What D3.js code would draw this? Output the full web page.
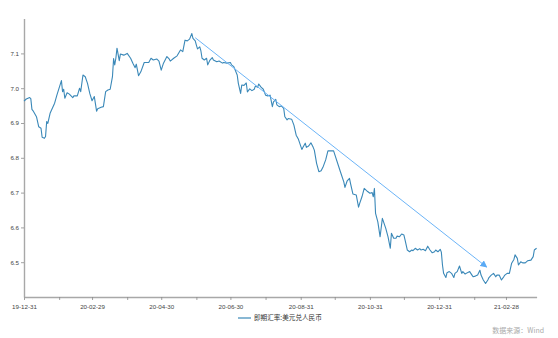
<!DOCTYPE html>
<html>
<head>
<meta charset="utf-8">
<script src="https://cdn.jsdelivr.net/npm/d3@7/dist/d3.min.js"></script>
<style>
  html, body { margin: 0; padding: 0; background: #fff; }
  svg { display: block; }
  .axis text { font-family: "Liberation Sans", Arial, sans-serif; font-size: 6.2px; fill: #444; }
  .axis .domain { stroke: #a8a8a8; stroke-width: 1.4; }
  .axis .tick line { stroke: #8a8a8a; stroke-width: 0.8; }
</style>
</head>
<body>
<svg id="chart" width="558" height="338"></svg>
<script>
// USD/CNY spot rate, daily observations
const dates = [
  "2019-12-31","2020-01-02","2020-01-05","2020-01-06","2020-01-07","2020-01-08","2020-01-11","2020-01-13","2020-01-15","2020-01-16",
  "2020-01-18","2020-01-19","2020-01-20","2020-01-21","2020-01-23","2020-01-27","2020-01-29","2020-02-02","2020-02-03","2020-02-04",
  "2020-02-05","2020-02-07","2020-02-09","2020-02-12","2020-02-13","2020-02-16","2020-02-18","2020-02-19","2020-02-21","2020-02-23",
  "2020-02-25","2020-02-27","2020-02-29","2020-03-02","2020-03-04","2020-03-05","2020-03-08","2020-03-10","2020-03-12","2020-03-14",
  "2020-03-16","2020-03-18","2020-03-19","2020-03-20","2020-03-21","2020-03-22","2020-03-24","2020-03-25","2020-03-28","2020-03-31",
  "2020-04-03","2020-04-05","2020-04-07","2020-04-08","2020-04-10","2020-04-12","2020-04-15","2020-04-19","2020-04-21","2020-04-23",
  "2020-04-26","2020-04-28","2020-04-30","2020-05-02","2020-05-05","2020-05-07","2020-05-08","2020-05-11","2020-05-14","2020-05-17",
  "2020-05-19","2020-05-21","2020-05-23","2020-05-25","2020-05-27","2020-05-28","2020-05-30","2020-05-31","2020-06-01","2020-06-03",
  "2020-06-04","2020-06-05","2020-06-07","2020-06-09","2020-06-10","2020-06-12","2020-06-14","2020-06-15","2020-06-18","2020-06-20",
  "2020-06-23","2020-06-24","2020-06-27","2020-06-30","2020-07-01","2020-07-03","2020-07-06","2020-07-07","2020-07-09","2020-07-10",
  "2020-07-12","2020-07-14","2020-07-15","2020-07-17","2020-07-19","2020-07-21","2020-07-22","2020-07-24","2020-07-25","2020-07-27",
  "2020-07-29","2020-07-31","2020-08-02","2020-08-04","2020-08-06","2020-08-07","2020-08-09","2020-08-10","2020-08-12","2020-08-14",
  "2020-08-16","2020-08-17","2020-08-19","2020-08-20","2020-08-23","2020-08-25","2020-08-27","2020-08-29","2020-09-01","2020-09-02",
  "2020-09-04","2020-09-05","2020-09-07","2020-09-09","2020-09-11","2020-09-12","2020-09-14","2020-09-16","2020-09-18","2020-09-20",
  "2020-09-22","2020-09-24","2020-09-26","2020-09-29","2020-10-05","2020-10-08","2020-10-09","2020-10-11","2020-10-13","2020-10-14",
  "2020-10-16","2020-10-19","2020-10-21","2020-10-22","2020-10-24","2020-10-26","2020-10-29","2020-10-31","2020-11-02","2020-11-03",
  "2020-11-04","2020-11-05","2020-11-07","2020-11-09","2020-11-11","2020-11-14","2020-11-16","2020-11-18","2020-11-19","2020-11-21",
  "2020-11-23","2020-11-24","2020-11-26","2020-11-28","2020-11-30","2020-12-01","2020-12-03","2020-12-05","2020-12-07","2020-12-08",
  "2020-12-10","2020-12-12","2020-12-14","2020-12-15","2020-12-17","2020-12-19","2020-12-21","2020-12-23","2020-12-25","2020-12-27",
  "2020-12-28","2020-12-30","2021-01-01","2021-01-02","2021-01-03","2021-01-04","2021-01-06","2021-01-07","2021-01-09","2021-01-11",
  "2021-01-13","2021-01-14","2021-01-16","2021-01-18","2021-01-20","2021-01-21","2021-01-23","2021-01-25","2021-01-27","2021-01-29",
  "2021-01-30","2021-02-01","2021-02-03","2021-02-05","2021-02-06","2021-02-08","2021-02-10","2021-02-12","2021-02-13","2021-02-15",
  "2021-02-17","2021-02-19","2021-02-20","2021-02-22","2021-02-24","2021-02-26","2021-02-27","2021-03-01","2021-03-03","2021-03-05",
  "2021-03-07","2021-03-08","2021-03-10","2021-03-11","2021-03-13","2021-03-15","2021-03-17","2021-03-19","2021-03-22","2021-03-24",
  "2021-03-25","2021-03-27"
];
const rates = [
  6.963,6.969,6.973,6.970,6.939,6.935,6.918,6.889,6.885,6.859,
  6.856,6.861,6.904,6.899,6.928,6.957,6.980,7.022,6.990,6.997,
  6.971,6.987,6.983,6.973,6.978,6.978,7.000,6.990,7.038,7.033,
  7.014,6.985,6.964,6.976,6.934,6.941,6.945,6.947,6.990,6.995,
  6.997,7.033,7.085,7.067,7.086,7.115,7.079,7.098,7.095,7.100,
  7.086,7.072,7.059,7.069,7.036,7.047,7.074,7.074,7.086,7.081,
  7.084,7.078,7.052,7.072,7.091,7.084,7.078,7.086,7.093,7.110,
  7.105,7.138,7.136,7.141,7.157,7.143,7.136,7.124,7.113,7.119,
  7.107,7.086,7.081,7.086,7.067,7.081,7.088,7.081,7.076,7.078,
  7.072,7.074,7.072,7.074,7.067,7.062,7.038,7.014,6.985,7.009,
  7.008,7.015,6.989,6.998,6.993,6.997,7.006,7.003,7.012,7.003,
  6.997,6.980,6.978,6.980,6.947,6.961,6.968,6.952,6.947,6.949,
  6.942,6.918,6.909,6.913,6.911,6.894,6.865,6.853,6.824,6.830,
  6.842,6.830,6.834,6.843,6.830,6.822,6.784,6.760,6.763,6.776,
  6.794,6.820,6.820,6.820,6.760,6.731,6.715,6.734,6.741,6.725,
  6.696,6.693,6.658,6.669,6.688,6.712,6.703,6.698,6.700,6.688,
  6.712,6.640,6.616,6.573,6.626,6.597,6.573,6.540,6.583,6.569,
  6.569,6.575,6.573,6.581,6.578,6.564,6.535,6.530,6.535,6.533,
  6.540,6.535,6.539,6.535,6.537,6.533,6.546,6.535,6.527,6.530,
  6.535,6.530,6.537,6.529,6.492,6.468,6.456,6.470,6.473,6.468,
  6.456,6.468,6.473,6.489,6.468,6.473,6.466,6.470,6.473,6.463,
  6.458,6.460,6.463,6.477,6.463,6.449,6.439,6.449,6.456,6.463,
  6.468,6.458,6.463,6.463,6.449,6.458,6.463,6.468,6.468,6.497,
  6.508,6.521,6.511,6.492,6.501,6.498,6.498,6.504,6.506,6.516,
  6.535,6.540
];

// Downtrend arrow endpoints
const trendDates = ["2020-05-30", "2021-02-11"];
const trendRates = [7.145, 6.486];

// Axis ticks: month ends, every other one labelled
const monthEnds = [
  "2019-12-31","2020-01-31","2020-02-29","2020-03-31","2020-04-30","2020-05-31","2020-06-30",
  "2020-07-31","2020-08-31","2020-09-30","2020-10-31","2020-11-30","2020-12-31","2021-01-31","2021-02-28"
];
const yTicks = [6.5, 6.6, 6.7, 6.8, 6.9, 7.0, 7.1];

const seriesName = "即期汇率:美元兑人民币";
const sourceText = "数据来源：Wind";

const parse = d3.timeParse("%Y-%m-%d");
const fmt = d3.timeFormat("%y-%m-%d");
const series = dates.map((d, i) => ({ date: parse(d), value: rates[i] }));
const tickDates = monthEnds.map(parse);
const labelled = new Set(monthEnds.filter((d, i) => i % 2 === 0));

const svg = d3.select("#chart");
const x = d3.scaleTime()
  .domain([parse("2019-12-31"), parse("2021-03-27")])
  .range([24, 536.6]);
const y = d3.scaleLinear().domain([6.4, 7.2]).range([297, 18.6]);

// x axis
svg.append("g")
  .attr("class", "axis")
  .attr("transform", "translate(0,297)")
  .call(d3.axisBottom(x)
    .tickValues(tickDates)
    .tickSize(3)
    .tickSizeOuter(0)
    .tickFormat(d => labelled.has(d3.timeFormat("%Y-%m-%d")(d)) ? fmt(d) : ""))
  .call(g => g.selectAll(".tick text").attr("dy", "0.95em"));

// y axis
svg.append("g")
  .attr("class", "axis")
  .attr("transform", "translate(24,0)")
  .call(d3.axisLeft(y)
    .tickValues(yTicks)
    .tickSize(3)
    .tickSizeOuter(0)
    .tickPadding(2)
    .tickFormat(d3.format(".1f")));

// rate line
const line = d3.line().x(d => x(d.date)).y(d => y(d.value));
svg.append("path")
  .datum(series)
  .attr("fill", "none")
  .attr("stroke", "#3a88b8")
  .attr("stroke-width", 1.1)
  .attr("stroke-linejoin", "round")
  .attr("d", line);

// trend arrow
svg.append("defs").append("marker")
  .attr("id", "arrowHead")
  .attr("viewBox", "0 0 10 10")
  .attr("refX", 9).attr("refY", 5)
  .attr("markerWidth", 7).attr("markerHeight", 7)
  .attr("markerUnits", "userSpaceOnUse")
  .attr("orient", "auto")
  .append("path")
  .attr("d", "M0,0 L10,5 L0,10 Z")
  .attr("fill", "#5aaaf5");

svg.append("line")
  .attr("x1", x(parse(trendDates[0]))).attr("y1", y(trendRates[0]))
  .attr("x2", x(parse(trendDates[1]))).attr("y2", y(trendRates[1]))
  .attr("stroke", "#6cb4f7")
  .attr("stroke-width", 1)
  .attr("marker-end", "url(#arrowHead)");

// legend
const legend = svg.append("g").attr("transform", "translate(238,318)");
legend.append("line")
  .attr("x1", 0).attr("x2", 13).attr("y1", 0).attr("y2", 0)
  .attr("stroke", "#3a88b8").attr("stroke-width", 1.2);
legend.append("text")
  .attr("x", 16).attr("y", 2.4)
  .attr("font-family", "'Noto Sans CJK SC', sans-serif")
  .attr("font-size", 6.6)
  .attr("fill", "#333")
  .text(seriesName);

// source note
svg.append("text")
  .attr("x", 544).attr("y", 333)
  .attr("text-anchor", "end")
  .attr("font-family", "'Noto Sans CJK SC', sans-serif")
  .attr("font-size", 7)
  .attr("fill", "#aaa")
  .text(sourceText);
</script>
</body>
</html>
